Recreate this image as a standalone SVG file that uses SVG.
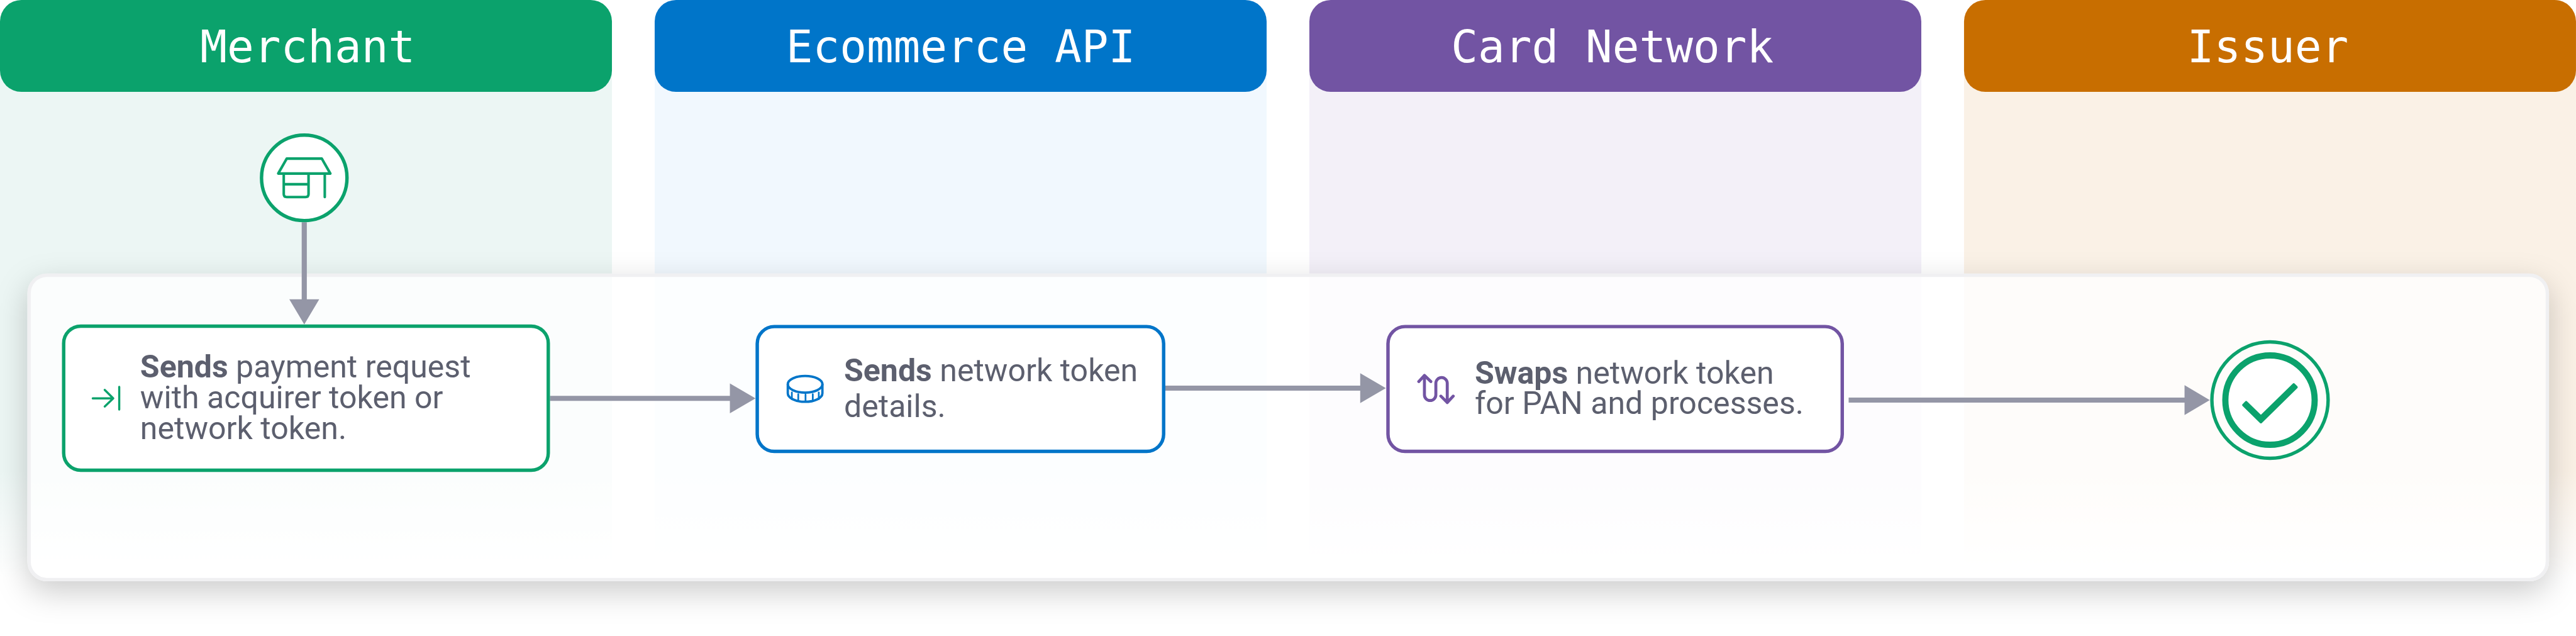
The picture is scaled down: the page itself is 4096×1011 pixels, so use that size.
<svg xmlns="http://www.w3.org/2000/svg" width="4096" height="1011" viewBox="0 0 4096 1011">
<style>
.hd{font-family:"DejaVu Sans Mono",monospace;font-size:104.500px;fill:#fff;text-anchor:middle}
.tx{font-family:Roboto,"Liberation Sans",sans-serif;font-size:73.700px;fill:#5c5f6e}
.tx .b{font-weight:700}
.ln{fill:none;stroke:#9496a6;stroke-width:12}
.ah{fill:#9496a6}
.ic{fill:none;stroke-linecap:round;stroke-linejoin:round}
.g{stroke:#0ba26c}.bl{stroke:#0075c9}.p{stroke:#7254a3}
.nd{fill:#fff;stroke-width:8}
</style>
<defs>
<linearGradient id="fg" x1="0" y1="0" x2="0" y2="1"><stop offset="0" stop-color="#ecf6f4"/><stop offset=".8" stop-color="#ecf6f4"/><stop offset="1" stop-color="#ecf6f4" stop-opacity="0"/></linearGradient>
<linearGradient id="fb" x1="0" y1="0" x2="0" y2="1"><stop offset="0" stop-color="#f1f8fe"/><stop offset=".8" stop-color="#f1f8fe"/><stop offset="1" stop-color="#f1f8fe" stop-opacity="0"/></linearGradient>
<linearGradient id="fp" x1="0" y1="0" x2="0" y2="1"><stop offset="0" stop-color="#f3f0f8"/><stop offset=".8" stop-color="#f3f0f8"/><stop offset="1" stop-color="#f3f0f8" stop-opacity="0"/></linearGradient>
<linearGradient id="fo" x1="0" y1="0" x2="0" y2="1"><stop offset="0" stop-color="#faf1e6"/><stop offset=".8" stop-color="#faf1e6"/><stop offset="1" stop-color="#faf1e6" stop-opacity="0"/></linearGradient>
<filter id="sh" filterUnits="userSpaceOnUse" x="-200" y="400" width="6500" height="1088"><feGaussianBlur stdDeviation="36"/></filter>
<mask id="out" maskUnits="userSpaceOnUse" x="-200" y="400" width="6500" height="1088"><rect x="-200" y="400" width="6500" height="1088" fill="#fff"/><rect x="64" y="640" width="5901" height="720" rx="46" fill="#000"/></mask>
</defs>
<rect width="4096" height="1011" fill="#fff"/>
<g transform="scale(0.67949)">
<g id="lane-merchant"><rect y="100" width="1432" height="1250" fill="url(#fg)"/><rect width="1432" height="215" rx="50" fill="#0ba26c"/><text class="hd" x="720" y="145">Merchant</text></g>
<g id="lane-api"><rect x="1532" y="100" width="1432" height="1250" fill="url(#fb)"/><rect x="1532" width="1432" height="215" rx="50" fill="#0075c9"/><text class="hd" x="2248" y="145">Ecommerce API</text></g>
<g id="lane-network"><rect x="3064" y="100" width="1432" height="1250" fill="url(#fp)"/><rect x="3064" width="1432" height="215" rx="50" fill="#7254a3"/><text class="hd" x="3773" y="145">Card Network</text></g>
<g id="lane-issuer"><rect x="4596" y="100" width="1432" height="1250" fill="url(#fo)"/><rect x="4596" width="1432" height="215" rx="50" fill="#c86e00"/><text class="hd" x="5307" y="145">Issuer</text></g>
<g id="panel">
<g mask="url(#out)"><rect x="64" y="665" width="5901" height="720" rx="46" fill="#000" fill-opacity=".2" filter="url(#sh)"/></g>
<rect x="68" y="644" width="5893" height="712" rx="42" fill="#fff" fill-opacity=".78" stroke="#f0f0f2" stroke-width="8"/>
</g>
<g id="connectors">
<path class="ln" d="M712 520V705M1287 932H1712M2727 908H3187M4326 936H5116"/>
<path class="ah" d="M677 700H747L712 759ZM1708 897L1768 932L1708 967ZM3183 873L3243 908L3183 943ZM5112 901L5171 936L5112 971Z"/>
</g>
<g id="start">
<circle class="nd g" cx="712" cy="416" r="100"/>
<path class="ic g" stroke-width="6" d="M671 371H753L773 406H651ZM664 406V454Q664 461 671 461H715Q722 461 722 454V406M664 431H722M760 406V461"/>
</g>
<g id="node-merchant">
<rect class="nd g" x="149" y="763" width="1134" height="337" rx="40"/>
<path class="ic g" stroke-width="5" d="M217 932H265M245 912L265 932L245 951M279 905V958"/>
<text class="tx"><tspan x="328" y="883"><tspan class="b">Sends</tspan> payment request</tspan><tspan x="328" y="955">with acquirer token or</tspan><tspan x="328" y="1027">network token.</tspan></text>
</g>
<g id="node-api">
<rect class="nd bl" x="1772" y="764" width="951" height="292" rx="40"/>
<path class="ic bl" stroke-width="5.5" d="M1843.500 899V920A40.500 20 0 0 0 1924.500 920V899"/>
<ellipse class="ic bl" stroke-width="5.500" cx="1884" cy="899" rx="40.500" ry="19.500"/>
<path class="ic bl" stroke-width="4" stroke-linecap="butt" d="M1853 918V934M1868 922V938M1885 923V940M1902 922V938M1916 918V934"/>
<text class="tx"><tspan x="1975" y="892"><tspan class="b">Sends</tspan> network token</tspan><tspan x="1975" y="976">details.</tspan></text>
</g>
<g id="node-network">
<rect class="nd p" x="3248" y="764" width="1063" height="292" rx="40"/>
<path class="ic p" stroke-width="7" d="M3333.300 878.300V923.700A13.300 13.300 0 0 0 3360 923.700V896.700A13.300 13.300 0 0 1 3386.700 896.700V941.700M3320 892.700L3333.300 878.300L3348.300 892.700M3371.700 926.700L3386.700 941.700L3400.700 926.700"/>
<text class="tx"><tspan x="3451" y="898"><tspan class="b">Swaps</tspan> network token</tspan><tspan x="3451" y="969">for PAN and processes.</tspan></text>
</g>
<g id="end">
<circle cx="5312" cy="936" r="136" fill="none" class="g" stroke-width="8"/>
<circle cx="5312" cy="936" r="104.500" fill="#fff" class="g" stroke-width="14.500"/>
<polygon fill="#0ba26c" stroke="#0ba26c" stroke-width="6" stroke-linejoin="round" points="5256.200,941.100 5249.800,947.500 5290.700,987.400 5373.900,905.800 5367.500,899.400 5290.700,974.600"/>
</g>
</g>
</svg>
